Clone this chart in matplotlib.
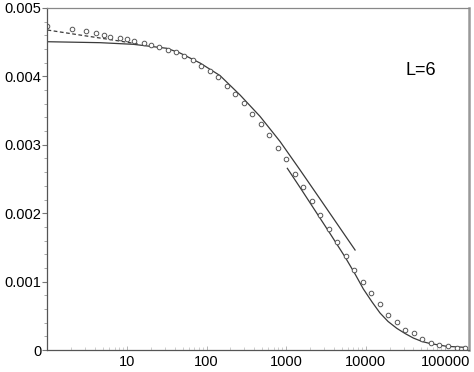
import matplotlib
matplotlib.use('Agg')
import matplotlib.pyplot as plt
from matplotlib.ticker import FixedLocator, NullFormatter

plt.rcParams['font.family'] = ['Liberation Sans', 'DejaVu Sans']

# measured points (open circles)
pts_x = [1.0, 2.02, 3.05, 4.07, 5.09, 6.11, 8.17, 10.1, 12.2, 16.2, 20.2, 25.5,
         32.5, 41.7, 52.6, 67.6, 86.0, 111, 141, 180, 228, 294, 377, 481, 617,
         787, 1000, 1285, 1650, 2105, 2700, 3445, 4420, 5630, 7230, 9220,
         11830, 15200, 19350, 24700, 31700, 40400, 51800, 66700, 84800,
         109000, 140000, 178500]
pts_y = [4.737, 4.689, 4.664, 4.630, 4.601, 4.580, 4.557, 4.542, 4.518, 4.488,
         4.463, 4.425, 4.386, 4.352, 4.303, 4.235, 4.156, 4.079, 3.991, 3.864,
         3.738, 3.607, 3.455, 3.300, 3.139, 2.953, 2.792, 2.577, 2.387, 2.178,
         1.969, 1.769, 1.572, 1.379, 1.174, 0.999, 0.829, 0.677, 0.512, 0.405,
         0.297, 0.253, 0.165, 0.107, 0.077, 0.058, 0.035, 0.032]

# upper solid curve (small-time branch)
a_x = [1.0, 4.58, 12.0, 31.6, 46.4, 82.8, 147.8, 264, 471, 841, 1500, 2677,
       7380]
a_y = [4.507, 4.493, 4.469, 4.411, 4.342, 4.196, 4.012, 3.728, 3.415, 3.048,
       2.632, 2.208, 1.462]

# lower solid curve (large-time branch)
b_x = [1038, 1500, 2317, 3575, 5520, 7380, 9380, 12070, 15200, 19190, 24700,
       31400, 39900, 51400, 64700, 105000, 178600]
b_y = [2.656, 2.376, 2.039, 1.703, 1.360, 1.111, 0.892, 0.702, 0.541, 0.417,
       0.317, 0.241, 0.175, 0.124, 0.095, 0.054, 0.039]

# dashed curve
d_x = [1.0, 2.56, 6.1, 14.6]
d_y = [4.678, 4.605, 4.539, 4.469]

x_ticks = [10, 100, 1000, 10000, 100000]
x_labels = ['10', '100', '1000', '10000', '100000']
y_ticks = [0, 0.001, 0.002, 0.003, 0.004, 0.005]
y_labels = ['0', '0.001', '0.002', '0.003', '0.004', '0.005']

scale = 1e-3
fig = plt.figure(figsize=(4.74, 3.72), dpi=100)
ax = fig.add_axes([0.1002, 0.0591, 0.8893, 0.9194])

ax.plot(a_x, [v * scale for v in a_y], color='#3a3a3a', lw=0.9)
ax.plot(b_x, [v * scale for v in b_y], color='#3a3a3a', lw=0.9)
ax.plot(d_x, [v * scale for v in d_y], color='#3a3a3a', lw=0.9,
        dashes=(3, 2))
ax.plot(pts_x, [v * scale for v in pts_y], 'o', mfc='white', mec='#555555',
        ms=3.3, mew=0.7, ls='none')

ax.set_xscale('log')
ax.set_xlim(1, 2.0e5)
ax.set_ylim(0, 0.005)

ax.xaxis.set_major_locator(FixedLocator(x_ticks))
ax.set_xticklabels(x_labels)
ax.xaxis.set_minor_formatter(NullFormatter())
ax.yaxis.set_major_locator(FixedLocator(y_ticks))
ax.set_yticklabels(y_labels)
ax.yaxis.set_minor_locator(FixedLocator([i * 0.0002 for i in range(26)]))

ax.tick_params(axis='y', which='major', direction='out', length=3.5,
               width=0.8, color='#777777', labelsize=10.5, pad=0.8)
ax.tick_params(axis='y', which='minor', direction='out', length=2,
               width=0.6, color='#999999')
ax.tick_params(axis='x', which='major', direction='in', length=3,
               width=0.6, color='#aaaaaa', labelsize=10.5, pad=3.5)
ax.tick_params(axis='x', which='minor', direction='in', length=2,
               width=0.5, color='#bbbbbb')

for side in ['left', 'bottom']:
    ax.spines[side].set_color('#555555')
    ax.spines[side].set_linewidth(0.9)
ax.spines['top'].set_color('#888888')
ax.spines['top'].set_linewidth(0.9)
ax.spines['right'].set_color('#999999')
ax.spines['right'].set_linewidth(1.8)

ax.text(0.886, 0.816, 'L=6', transform=ax.transAxes, fontsize=13,
        ha='center', va='center')

fig.savefig('out.png', dpi=100)
